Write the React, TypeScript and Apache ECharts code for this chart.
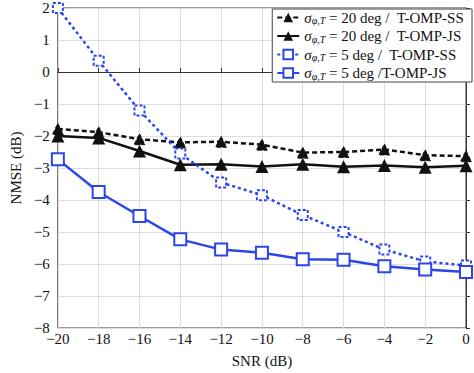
import React, { useEffect, useRef } from "react";
import * as echarts from "echarts";

const snr = [-20, -18, -16, -14, -12, -10, -8, -6, -4, -2, 0];
const ss20 = [-1.78, -1.88, -2.1, -2.2, -2.18, -2.27, -2.52, -2.5, -2.42, -2.6, -2.63];
const js20 = [-2.0, -2.06, -2.47, -2.9, -2.88, -2.95, -2.88, -2.96, -2.92, -2.98, -2.93];
const ss5 = [2.0, 0.35, -1.2, -2.55, -3.45, -3.85, -4.47, -5.0, -5.55, -5.92, -6.05];
const js5 = [-2.73, -3.75, -4.5, -5.23, -5.55, -5.65, -5.85, -5.87, -6.07, -6.17, -6.25];
const legendLabels = [
  "{s|σ}{sub|φ,T}{n| = 20 deg /  T-OMP-SS}",
  "{s|σ}{sub|φ,T}{n| = 20 deg /  T-OMP-JS}",
  "{s|σ}{sub|φ,T}{n| = 5 deg /  T-OMP-SS}",
  "{s|σ}{sub|φ,T}{n| = 5 deg /T-OMP-JS}",
];
const names = ["s20ss", "s20js", "s5ss", "s5js"];

const BLUE = "#2b45ea";
const FONT = "'Liberation Serif', serif";

export default function App() {
  const ref = useRef<HTMLDivElement>(null);
  useEffect(() => {
    const chart = echarts.init(ref.current!, null, { renderer: "svg" });
    const minus = (v: number) => String(v).replace("-", "−");
    chart.setOption({
      animation: false,
      textStyle: { fontFamily: FONT },
      grid: { left: 55, right: 8, top: 8, bottom: 40, show: true, borderColor: "#333", borderWidth: 1 },
      legend: {
        right: 2,
        top: 9,
        orient: "vertical",
        backgroundColor: "#fff",
        borderColor: "#444",
        borderWidth: 1,
        borderRadius: 0,
        padding: [1, 8, 1, 4],
        itemGap: 3,
        itemWidth: 22,
        itemHeight: 12,
        data: names,
        formatter: (n: string) => legendLabels[names.indexOf(n)],
        textStyle: {
          fontFamily: FONT,
          fontSize: 15,
          color: "#111",
          rich: {
            s: { fontFamily: FONT, fontStyle: "italic", fontSize: 15, color: "#111" },
            sub: { fontFamily: FONT, fontStyle: "italic", fontSize: 10, color: "#111", padding: [6, 0, 0, 0] },
            n: { fontFamily: FONT, fontSize: 15, color: "#111" },
          },
        },
      },
      xAxis: {
        type: "value",
        min: -20,
        max: 0,
        interval: 2,
        name: "SNR (dB)",
        nameLocation: "middle",
        nameGap: 25,
        nameTextStyle: { fontFamily: FONT, fontSize: 15, color: "#111" },
        axisLine: { lineStyle: { color: "#333" } },
        axisTick: { inside: true, length: 4, lineStyle: { color: "#333" } },
        axisLabel: { formatter: minus, fontFamily: FONT, fontSize: 15, color: "#111", margin: 3 },
        splitLine: { lineStyle: { color: "#ddd" } },
      },
      yAxis: {
        type: "value",
        min: -8,
        max: 2,
        interval: 1,
        name: "NMSE (dB)",
        nameLocation: "middle",
        nameGap: 27,
        nameTextStyle: { fontFamily: FONT, fontSize: 15, color: "#111" },
        axisLine: { show: true, lineStyle: { color: "#333" } },
        axisTick: { show: true, inside: true, length: 4, lineStyle: { color: "#333" } },
        axisLabel: { formatter: minus, fontFamily: FONT, fontSize: 15, color: "#111", margin: 8 },
        splitLine: { lineStyle: { color: "#ddd" } },
      },
      series: [
        {
          name: "s20ss",
          type: "line",
          data: snr.map((x, i) => [x, ss20[i]]),
          symbol: "triangle",
          symbolSize: 11,
          lineStyle: { color: "#111", width: 2.5, type: [5, 3] },
          itemStyle: { color: "#111", borderColor: "#111", borderType: "dashed" },
          z: 3,
        },
        {
          name: "s20js",
          type: "line",
          data: snr.map((x, i) => [x, js20[i]]),
          symbol: "triangle",
          symbolSize: 13,
          lineStyle: { color: "#111", width: 2.5 },
          itemStyle: { color: "#111" },
          z: 2,
        },
        {
          name: "s5ss",
          type: "line",
          data: snr.map((x, i) => [x, ss5[i]]),
          symbol: "rect",
          symbolSize: 10,
          lineStyle: { color: BLUE, width: 2.5, type: [3, 3] },
          itemStyle: { color: "#fff", borderColor: BLUE, borderWidth: 2, borderType: [3, 2] },
          z: 4,
        },
        {
          name: "s5js",
          type: "line",
          data: snr.map((x, i) => [x, js5[i]]),
          symbol: "rect",
          symbolSize: 12,
          lineStyle: { color: BLUE, width: 2.5 },
          itemStyle: { color: "#fff", borderColor: BLUE, borderWidth: 2 },
          z: 5,
        },
      ],
    });
    return () => chart.dispose();
  }, []);
  return <div ref={ref} style={{ width: 474, height: 373, position: "absolute", left: 0, top: 0, background: "#fff" }} />;
}
